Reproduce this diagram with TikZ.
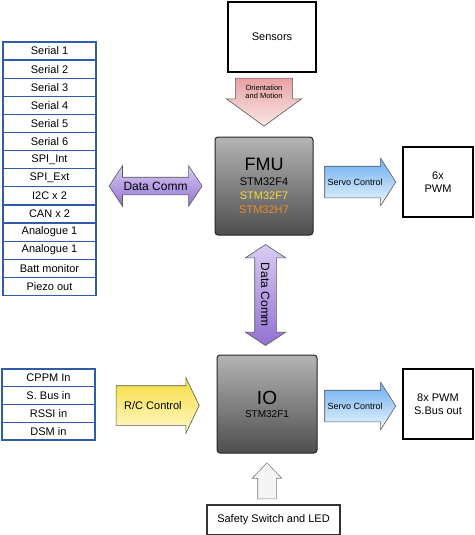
\documentclass[tikz,border=0pt]{standalone}
\usepackage{fontspec}
\setmainfont{Liberation Sans}
\usetikzlibrary{shapes.arrows,calc}

\definecolor{portblue}{HTML}{2F5DAA}
\definecolor{chiptop}{HTML}{B4B4B4}
\definecolor{chipbot}{HTML}{4E4E4E}
\definecolor{f7yellow}{HTML}{F5D63A}
\definecolor{h7orange}{HTML}{EE8A2A}
\definecolor{commlight}{HTML}{D8CCF2}
\definecolor{commdark}{HTML}{9270D2}
\definecolor{servotop}{HTML}{6AAEF0}
\definecolor{servobot}{HTML}{EEF6FF}
\definecolor{rctop}{HTML}{F6DC3C}
\definecolor{rcbot}{HTML}{FFF9CC}
\definecolor{senstop}{HTML}{E7A2A2}
\definecolor{sensbot}{HTML}{FBE6E6}

\begin{document}
\begin{tikzpicture}[x=1pt,y=-1pt,
  portbox/.style={draw=portblue, line width=1.2pt, minimum width=93pt, minimum height=18.1pt, inner sep=0pt, font=\fontsize{11}{12}\selectfont},
  chipbox/.style={draw=black!85, line width=1pt, rounded corners=3pt, top color=chiptop, bottom color=chipbot, align=center, inner sep=0pt},
  outbox/.style={draw, line width=1.8pt, fill=white, minimum size=70pt, inner sep=0pt, align=center, font=\fontsize{11}{13}\selectfont},
  fatarrow/.style={single arrow, draw=black!65, line width=0.6pt, inner xsep=0pt, align=center, anchor=tip},
  servoarrow/.style={fatarrow, minimum height=71pt, minimum width=47pt, single arrow head extend=8pt,
    single arrow tip angle=115, top color=servotop, bottom color=servobot,
    font=\fontsize{9}{10}\selectfont, text height=6.5pt, text depth=0pt, inner ysep=12.25pt},
  fatboth/.style={double arrow, draw=black!65, line width=0.6pt, inner xsep=0pt, align=center,
    top color=commlight, bottom color=commdark, font=\fontsize{12}{12}\selectfont,
    text height=8.6pt, text depth=0pt,
    minimum width=40pt, double arrow tip angle=113}]
\useasboundingbox (0,0) rectangle (474,535);

% peripheral ports
\foreach \port [count=\i] in {Serial 1,Serial 2,Serial 3,Serial 4,Serial 5,Serial 6,SPI\_Int,SPI\_Ext,I2C x 2,CAN x 2,Analogue 1,Analogue 1,Batt monitor,Piezo out}
  \node[portbox] (port\i) at (49.5,{42+18.1*(\i-0.5)}) {\port};
\foreach \rc [count=\i] in {CPPM In,S. Bus in,RSSI in,DSM in}
  \node[portbox, minimum height=17.75pt] (rc\i) at (48.5,{369+17.75*(\i-0.5)}) {\rc};

% processors
\node[chipbox, minimum width=98pt, minimum height=98pt, font=\fontsize{11}{14}\selectfont] (fmu) at (264,186)
  {{\fontsize{18}{18}\selectfont FMU}\\[1pt]
   STM32F4\\
   \textcolor{f7yellow}{STM32F7}\\
   \textcolor{h7orange}{STM32H7}};
\node[chipbox, minimum width=100pt, minimum height=98pt, font=\fontsize{10}{12}\selectfont] (io) at (267,404)
  {{\fontsize{19}{19}\selectfont IO}\\[1pt]
   STM32F1};

% outer blocks
\node[outbox, minimum width=88pt] (sensors) at (272,37) {Sensors};
\node[outbox] (pwm) at (438,182) {6x\\PWM};
\node[outbox] (sbus) at (438,404) {8x PWM\\S.Bus out};
\node[draw=black!80, line width=1.2pt, fill=white, minimum width=133pt, minimum height=30pt,
  font=\fontsize{11}{13}\selectfont] (safety) at (273.5,520) {Safety Switch and LED};

% fat arrows
\coordinate (dcl) at ($(port8.east)!0.5!(fmu.west)$);
\node[fatboth, minimum height=93pt, inner ysep=4.2pt, double arrow head extend=11.5pt] (commleft) at (dcl |- fmu) {Data Comm};
\node[fatboth, minimum height=101pt, inner ysep=6.2pt, double arrow head extend=9.5pt, rotate=-90] (commio)
  at ($(fmu.south)!0.5!(io.north)$) {Data Comm};
\node[fatarrow, shape border rotate=270, minimum height=48pt, minimum width=75pt, inner xsep=2pt, inner ysep=0pt,
  single arrow head extend=6.5pt, single arrow tip angle=108, top color=senstop, bottom color=sensbot,
  font=\fontsize{7.5}{8.5}\selectfont] (orient) at ($(fmu.north)+(0,-10)$) {Orientation\\and Motion};
\node[servoarrow] (servofmu) at ($(pwm.west)+(-6,0)$) {Servo Control};
\node[servoarrow] (servoio) at ($(sbus.west)+(-6,2)$) {Servo Control};
\node[fatarrow, minimum height=83pt, minimum width=55pt, single arrow head extend=8pt,
  single arrow tip angle=129, top color=rctop, bottom color=rcbot,
  font=\fontsize{11}{12}\selectfont, text height=8pt, text depth=0pt, inner ysep=15.5pt] (rcin)
  at ($(io.west)+(-17,1.5)$) {R/C Control};
\node[fatarrow, shape border rotate=90, minimum height=36pt, minimum width=29pt, inner sep=9pt,
  single arrow head extend=5.5pt, single arrow tip angle=88, fill=gray!8, draw=gray] (safeup)
  at ($(io.south)+(0,9)$) {};
\end{tikzpicture}
\end{document}
